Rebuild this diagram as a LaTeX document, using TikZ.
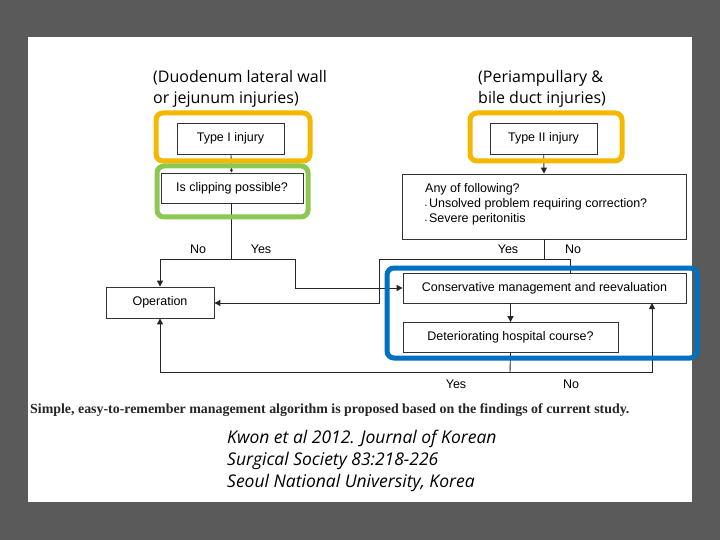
\documentclass[tikz,border=0pt]{standalone}
\usepackage{fontspec}
\setmainfont{Liberation Sans}
\newfontfamily\os{Open Sans}
\newfontfamily\ser{Liberation Serif}
\usetikzlibrary{arrows.meta}
\definecolor{bg}{HTML}{5A5A5A}
\definecolor{yel}{HTML}{F5B800}
\definecolor{grn}{HTML}{8CC751}
\definecolor{blu}{HTML}{0070C0}
\tikzset{
 box/.style={draw=black!80,fill=white,line width=0.8pt,inner sep=0pt,font=\fontsize{12.5}{14}\selectfont},
 ln/.style={draw=black!85,line width=0.9pt},
 arr/.style={ln,-{Triangle[length=6pt,width=6pt]}},
 hl/.style={rounded corners=7pt,line width=5pt},
 lab/.style={font=\fontsize{12.5}{14}\selectfont},
 top/.style={font=\os\fontsize{16}{21}\selectfont,align=left,anchor=north west,inner sep=0pt},
}
\begin{document}
\begin{tikzpicture}[x=1pt,y=-1pt]
\useasboundingbox (0,0) rectangle (720,540);
\fill[bg] (0,0) rectangle (720,540);
\fill[white] (28,37) rectangle (692,502);
\node[top] (t1) at (153,70) {(Duodenum lateral wall\\or jejunum injuries)};
\node[top] (t2) at (478,70) {(Periampullary \&\\bile duct injuries)};
% boxes
\node[box,minimum width=107pt,minimum height=31pt] (ti) at (230.5,138.5) {Type I injury};
\node[box,minimum width=142pt,minimum height=30pt] (cl) at (232,188) {Is clipping possible?};
\node[box,minimum width=107pt,minimum height=31pt] (tii) at (543.5,138.5) {Type II injury};
\node[box,minimum width=284pt,minimum height=65pt] (any) at (544,206.5) {};
\node[font=\fontsize{12.5}{15}\selectfont,align=left,anchor=north west,inner sep=0pt] (anyt) at (425,183) {Any of following?\\{\tiny\textbullet}\,Unsolved problem requiring correction?\\{\tiny\textbullet}\,Severe peritonitis};
\node[box,minimum width=283pt,minimum height=30pt] (cm) at (544.5,288) {Conservative management and reevaluation};
\node[box,minimum width=215pt,minimum height=30pt] (dh) at (510.5,337.5) {Deteriorating hospital course?};
\node[box,minimum width=108pt,minimum height=31pt] (op) at (160,302.5) {Operation};
% connectors
\coordinate (c1) at (231,259);
\draw[ln,-{Triangle[length=3pt,width=3pt]}] (ti) -- (cl);
\draw[ln] (cl.south -| c1) -- (c1);
\draw[arr] (c1) -| (op.north);
\draw[arr] (c1) -- (295,259) -- (295,288) -- (cm.west);
\draw[arr] (tii) -- (any.north);
\coordinate (c2) at (544,259);
\draw[ln] (any.south) -- (c2);
\draw[arr] (c2) -- (379,259) -- (379,303) -- (op.east |- 0,303);
\draw[ln] (c2) -- (570,259) -- (570,273);
\draw[arr] (cm.south -| dh) -- (dh.north);
\coordinate (c3) at (510,372);
\draw[ln] (dh.south) -- (c3);
\draw[arr] (c3) -| (op.south);
\draw[arr] (c3) -| (652,303);
% labels
\node[lab] (l1) at (198,249) {No};
\node[lab] (l2) at (261,249) {Yes};
\node[lab] (l3) at (508,249) {Yes};
\node[lab] (l4) at (573,249) {No};
\node[lab] (l5) at (456,384) {Yes};
\node[lab] (l6) at (571,384) {No};
% highlights
\draw[hl,yel] (156,113) rectangle (310,161);
\draw[hl,yel] (470,113) rectangle (622,161);
\draw[hl,grn] (157,166) rectangle (308,217);
\draw[hl,blu] (387,268) rectangle (697,358);
% caption
\node[font=\ser\bfseries\fontsize{13.9}{15}\selectfont,anchor=west,inner sep=0pt,text=black!85] (cap) at (30,410) {Simple, easy-to-remember management algorithm is proposed based on the findings of current study.};
\node[font=\os\itshape\fontsize{17.5}{22}\selectfont,align=left,anchor=north west,inner sep=0pt] (kw) at (227,430) {Kwon et al 2012. Journal of Korean\\Surgical Society 83:218-226\\Seoul National University, Korea};
\end{tikzpicture}
\end{document}
